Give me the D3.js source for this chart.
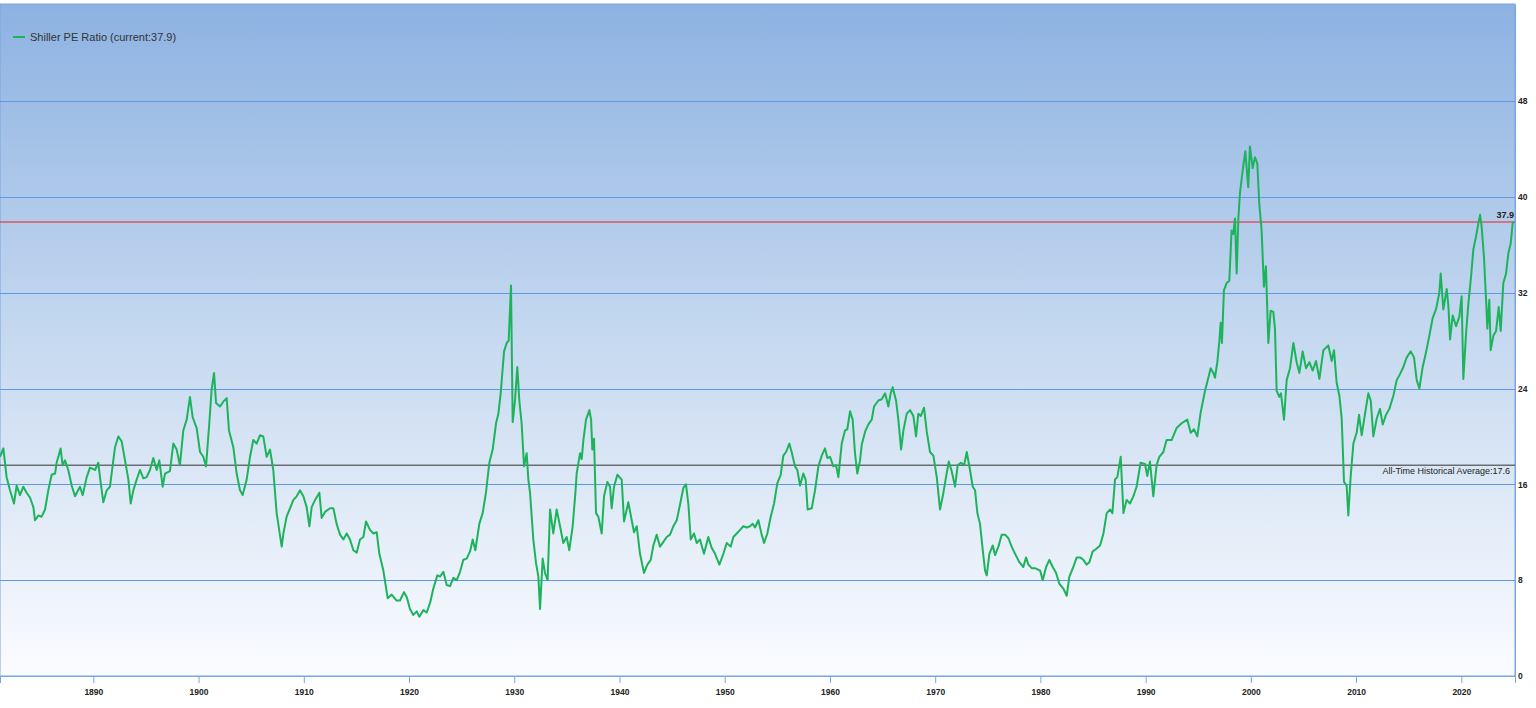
<!DOCTYPE html>
<html>
<head>
<meta charset="utf-8">
<script src="https://d3js.org/d3.v7.min.js"></script>
<style>
	html, body { margin: 0; padding: 0; background: #fff; }
	svg { display: block; font-family: "Liberation Sans", Arial, sans-serif; }
</style>
</head>
<body>
<div id="chart"></div>
<script>
// Shiller PE ratio (fractional years)
var years = [
	1881.13, 1881.45, 1881.76, 1882.08, 1882.46, 1882.71, 1883.03, 1883.35, 1883.66, 1883.98,
	1884.30, 1884.46, 1884.77, 1885.09, 1885.41, 1885.72, 1886.04, 1886.36, 1886.51, 1886.89,
	1887.08, 1887.31, 1887.62, 1887.94, 1888.26, 1888.73, 1888.99, 1889.37, 1889.68, 1890.16,
	1890.47, 1890.63, 1890.95, 1891.27, 1891.58, 1892.06, 1892.37, 1892.69, 1893.01, 1893.33,
	1893.55, 1893.80, 1894.12, 1894.43, 1894.75, 1895.07, 1895.38, 1895.70, 1896.02, 1896.27,
	1896.59, 1896.81, 1897.28, 1897.60, 1897.92, 1898.23, 1898.55, 1898.87, 1899.18, 1899.44,
	1899.82, 1900.14, 1900.45, 1900.71, 1901.02, 1901.24, 1901.47, 1901.66, 1902.04, 1902.35,
	1902.67, 1902.89, 1903.30, 1903.62, 1903.94, 1904.19, 1904.57, 1904.89, 1905.20, 1905.52,
	1905.84, 1906.15, 1906.47, 1906.79, 1907.10, 1907.42, 1907.90, 1908.06, 1908.37, 1908.69,
	1909.01, 1909.32, 1909.64, 1909.96, 1910.27, 1910.53, 1910.75, 1911.07, 1911.48, 1911.70,
	1912.02, 1912.49, 1912.81, 1913.12, 1913.44, 1913.76, 1914.08, 1914.39, 1914.71, 1915.03,
	1915.34, 1915.66, 1915.91, 1916.29, 1916.61, 1916.93, 1917.18, 1917.56, 1917.97, 1918.35,
	1918.82, 1919.14, 1919.52, 1919.78, 1920.09, 1920.41, 1920.73, 1920.98, 1921.36, 1921.68,
	1922.00, 1922.31, 1922.69, 1922.95, 1923.26, 1923.58, 1923.90, 1924.21, 1924.53, 1924.85,
	1925.16, 1925.48, 1925.80, 1926.05, 1926.30, 1926.68, 1927.00, 1927.31, 1927.63, 1927.95,
	1928.27, 1928.49, 1928.71, 1929.03, 1929.28, 1929.47, 1929.69, 1929.85, 1930.07, 1930.29,
	1930.48, 1930.70, 1930.93, 1931.18, 1931.34, 1931.50, 1931.81, 1932.07, 1932.29, 1932.45,
	1932.70, 1932.92, 1933.17, 1933.40, 1933.71, 1934.03, 1934.35, 1934.66, 1934.98, 1935.23,
	1935.55, 1935.81, 1935.93, 1936.25, 1936.41, 1936.57, 1936.82, 1937.14, 1937.30, 1937.42,
	1937.58, 1937.77, 1937.99, 1938.31, 1938.53, 1938.85, 1939.10, 1939.26, 1939.48, 1939.80,
	1940.21, 1940.43, 1940.84, 1941.16, 1941.38, 1941.64, 1941.95, 1942.33, 1942.65, 1942.97,
	1943.22, 1943.54, 1943.85, 1944.17, 1944.49, 1944.80, 1945.12, 1945.44, 1945.75, 1946.07,
	1946.32, 1946.55, 1946.77, 1947.08, 1947.34, 1947.65, 1948.03, 1948.44, 1948.76, 1949.08,
	1949.49, 1949.87, 1950.19, 1950.57, 1950.82, 1951.14, 1951.46, 1951.77, 1952.09, 1952.40,
	1952.66, 1952.88, 1953.20, 1953.51, 1953.74, 1954.05, 1954.37, 1954.69, 1955.00, 1955.32,
	1955.57, 1955.83, 1956.14, 1956.36, 1956.68, 1956.90, 1957.16, 1957.47, 1957.69, 1957.88,
	1958.27, 1958.58, 1958.90, 1959.22, 1959.53, 1959.76, 1960.01, 1960.32, 1960.58, 1960.80,
	1961.12, 1961.43, 1961.65, 1961.91, 1962.16, 1962.38, 1962.60, 1962.86, 1963.02, 1963.34,
	1963.65, 1963.97, 1964.19, 1964.60, 1964.92, 1965.24, 1965.55, 1965.77, 1965.96, 1966.28,
	1966.50, 1966.76, 1966.98, 1967.30, 1967.61, 1967.93, 1968.18, 1968.40, 1968.63, 1968.94,
	1969.20, 1969.51, 1969.83, 1970.15, 1970.46, 1970.72, 1971.03, 1971.29, 1971.57, 1971.89,
	1972.14, 1972.46, 1972.75, 1973.00, 1973.31, 1973.57, 1973.79, 1974.01, 1974.26, 1974.52,
	1974.74, 1974.90, 1975.15, 1975.47, 1975.69, 1976.01, 1976.32, 1976.64, 1976.96, 1977.27,
	1977.59, 1978.00, 1978.38, 1978.63, 1978.86, 1979.17, 1979.49, 1979.97, 1980.22, 1980.54,
	1980.85, 1981.17, 1981.49, 1981.80, 1982.18, 1982.50, 1982.75, 1983.13, 1983.45, 1983.77,
	1984.08, 1984.40, 1984.65, 1984.97, 1985.29, 1985.67, 1985.99, 1986.30, 1986.62, 1986.84,
	1987.09, 1987.31, 1987.63, 1987.89, 1988.19, 1988.51, 1988.83, 1989.14, 1989.52, 1989.94,
	1990.16, 1990.41, 1990.73, 1991.04, 1991.30, 1991.68, 1991.99, 1992.47, 1992.94, 1993.42,
	1993.96, 1994.28, 1994.59, 1994.91, 1995.23, 1995.64, 1995.96, 1996.18, 1996.43, 1996.59,
	1996.81, 1997.00, 1997.13, 1997.25, 1997.44, 1997.70, 1997.95, 1998.17, 1998.33, 1998.49,
	1998.65, 1998.81, 1998.96, 1999.22, 1999.47, 1999.75, 1999.91, 2000.17, 2000.39, 2000.61,
	2000.80, 2001.02, 2001.24, 2001.43, 2001.66, 2001.88, 2002.13, 2002.29, 2002.45, 2002.70,
	2002.86, 2003.15, 2003.40, 2003.72, 2004.04, 2004.35, 2004.61, 2004.92, 2005.24, 2005.56,
	2005.87, 2006.19, 2006.51, 2006.89, 2007.36, 2007.68, 2007.90, 2008.15, 2008.41, 2008.63,
	2008.85, 2009.10, 2009.26, 2009.48, 2009.74, 2010.05, 2010.28, 2010.53, 2010.85, 2011.16,
	2011.39, 2011.64, 2011.96, 2012.27, 2012.53, 2012.84, 2013.16, 2013.54, 2013.86, 2014.17,
	2014.49, 2014.81, 2015.19, 2015.50, 2015.76, 2016.01, 2016.33, 2016.64, 2016.96, 2017.28,
	2017.59, 2017.91, 2018.04, 2018.29, 2018.61, 2018.77, 2018.93, 2019.18, 2019.50, 2019.81,
	2020.03, 2020.19, 2020.45, 2020.67, 2020.92, 2021.14, 2021.40, 2021.62, 2021.78, 2021.93,
	2022.15, 2022.35, 2022.47, 2022.66, 2022.79, 2023.04, 2023.30, 2023.55, 2023.74, 2023.99,
	2024.25, 2024.47, 2024.69, 2024.88, 2024.98
];
var peValues = [
	18.3, 19.0, 16.6, 15.5, 14.4, 15.9, 15.1, 15.8, 15.3, 14.9,
	14.1, 13.0, 13.4, 13.3, 13.9, 15.5, 16.8, 16.9, 17.8, 19.0,
	17.6, 18.0, 17.2, 15.9, 15.0, 15.8, 15.1, 16.6, 17.4, 17.2,
	17.8, 16.6, 14.5, 15.5, 15.8, 19.1, 20.0, 19.6, 18.0, 16.4,
	14.4, 15.5, 16.4, 17.2, 16.5, 16.6, 17.2, 18.2, 17.2, 18.0,
	15.8, 16.9, 17.1, 19.4, 18.9, 17.6, 20.5, 21.4, 23.3, 21.6,
	20.7, 18.7, 18.3, 17.5, 21.1, 23.9, 25.3, 22.8, 22.5, 22.9,
	23.2, 20.5, 19.1, 16.9, 15.5, 15.1, 16.4, 18.3, 19.7, 19.4,
	20.1, 20.0, 18.3, 18.9, 17.2, 13.6, 10.8, 11.9, 13.3, 14.0,
	14.7, 15.0, 15.5, 15.0, 14.1, 12.5, 14.1, 14.7, 15.3, 13.2,
	13.7, 14.0, 14.0, 12.7, 11.8, 11.4, 11.9, 11.4, 10.5, 10.3,
	11.4, 11.6, 12.9, 12.2, 11.9, 12.0, 10.2, 8.8, 6.5, 6.8,
	6.3, 6.3, 7.0, 6.6, 5.6, 5.1, 5.4, 4.95, 5.5, 5.3,
	6.1, 7.3, 8.4, 8.3, 8.7, 7.6, 7.5, 8.2, 8.0, 8.7,
	9.7, 9.8, 10.4, 11.4, 10.5, 12.7, 13.6, 15.3, 17.8, 18.9,
	21.1, 21.9, 23.6, 27.1, 27.8, 28.0, 32.6, 21.2, 23.0, 25.8,
	23.0, 21.1, 17.5, 18.6, 16.4, 15.3, 11.4, 9.4, 8.3, 5.6,
	9.8, 8.6, 8.0, 13.9, 11.9, 13.9, 12.5, 11.1, 11.6, 10.5,
	12.5, 15.3, 16.9, 18.6, 18.1, 19.7, 21.4, 22.2, 21.4, 18.9,
	19.8, 13.6, 13.3, 11.9, 15.0, 16.2, 15.8, 14.0, 15.8, 16.8,
	16.4, 12.9, 14.5, 13.0, 12.0, 12.5, 10.2, 8.6, 9.3, 9.7,
	10.9, 11.8, 10.8, 11.2, 11.6, 11.8, 12.5, 13.0, 14.3, 15.7,
	16.0, 14.3, 11.4, 11.9, 11.1, 11.4, 10.2, 11.6, 10.7, 10.2,
	9.3, 10.2, 11.1, 10.8, 11.6, 11.9, 12.2, 12.5, 12.4, 12.5,
	12.7, 12.4, 13.0, 11.8, 11.1, 11.9, 13.3, 14.4, 16.1, 16.8,
	18.4, 18.7, 19.4, 18.7, 17.5, 17.2, 15.9, 16.9, 16.4, 13.9,
	14.0, 15.5, 17.5, 18.4, 19.0, 18.2, 18.3, 17.5, 17.6, 16.6,
	19.4, 20.5, 20.6, 22.1, 21.4, 18.6, 16.9, 18.0, 19.3, 20.4,
	21.0, 21.4, 22.5, 23.0, 23.1, 23.6, 22.5, 23.6, 24.1, 23.0,
	21.4, 18.9, 20.5, 21.9, 22.2, 21.7, 20.0, 21.9, 21.7, 22.4,
	20.4, 18.7, 18.4, 16.6, 13.9, 15.0, 16.6, 17.9, 17.1, 15.8,
	17.6, 17.8, 17.6, 18.7, 17.2, 15.8, 15.5, 13.6, 12.7, 10.5,
	8.8, 8.4, 10.2, 10.9, 10.1, 10.8, 11.8, 11.8, 11.5, 10.8,
	10.2, 9.5, 9.1, 9.9, 9.3, 9.0, 9.0, 8.8, 8.0, 9.1,
	9.7, 9.1, 8.6, 7.7, 7.3, 6.7, 8.3, 9.1, 9.9, 9.9,
	9.7, 9.3, 9.5, 10.4, 10.6, 10.9, 11.9, 13.6, 13.9, 13.6,
	16.4, 16.6, 18.3, 13.6, 14.7, 14.4, 15.0, 15.8, 17.8, 17.7,
	16.7, 17.9, 15.0, 17.6, 18.3, 18.7, 19.7, 19.7, 20.7, 21.1,
	21.4, 20.3, 20.6, 20.0, 22.0, 23.8, 24.9, 25.7, 25.3, 24.9,
	26.2, 27.9, 29.5, 27.8, 32.2, 32.8, 33.0, 37.2, 36.9, 38.2,
	33.6, 38.2, 40.3, 42.2, 43.8, 40.8, 44.2, 42.4, 43.3, 42.8,
	39.4, 37.2, 32.5, 34.2, 27.8, 30.5, 30.4, 29.0, 23.8, 23.3,
	23.6, 21.4, 24.7, 25.7, 27.8, 26.2, 25.3, 27.1, 25.7, 26.2,
	25.5, 26.3, 24.8, 27.2, 27.6, 26.3, 27.2, 24.5, 23.4, 21.5,
	16.2, 15.9, 13.4, 16.6, 19.4, 20.3, 21.8, 20.1, 21.9, 23.6,
	23.0, 20.0, 21.5, 22.3, 21.0, 21.8, 22.3, 23.4, 24.7, 25.2,
	25.8, 26.6, 27.1, 26.6, 24.7, 24.0, 25.8, 27.0, 28.4, 29.9,
	30.6, 32.0, 33.6, 30.6, 32.3, 30.9, 28.1, 30.1, 29.2, 30.0,
	31.7, 24.8, 28.6, 31.1, 33.3, 35.6, 36.7, 37.8, 38.5, 37.5,
	35.0, 31.4, 29.0, 31.4, 27.2, 28.4, 28.8, 30.8, 28.8, 32.8,
	33.6, 35.3, 36.1, 37.8, 37.9
];
var yTicks = [0, 8, 16, 24, 32, 40, 48];
var xTicks = [1890, 1900, 1910, 1920, 1930, 1940, 1950, 1960, 1970, 1980, 1990, 2000, 2010, 2020];
var currentValue = 37.9;
var historicalAverage = 17.6;
var seriesName = "Shiller PE Ratio";

var width = 1536, height = 708;
var plot = { left: 0, top: 4, right: 1515, bottom: 676 };

var svg = d3.select("#chart").append("svg")
	.attr("width", width)
	.attr("height", height);

// background gradient, blue at the top fading to white
var grad = svg.append("defs").append("linearGradient")
	.attr("id", "bg")
	.attr("x1", 0).attr("y1", 0).attr("x2", 0).attr("y2", 1);
grad.append("stop").attr("offset", "0%").attr("stop-color", "#8db2e2");
grad.append("stop").attr("offset", "50%").attr("stop-color", "#c6d9f0");
grad.append("stop").attr("offset", "100%").attr("stop-color", "#fbfcff");

var x = d3.scaleLinear()
	.domain([1881.13, 2025.1])
	.range([plot.left, plot.right]);
var y = d3.scaleLinear()
	.domain([0, 56.1])
	.range([plot.bottom, plot.top]);

svg.append("rect")
	.attr("x", plot.left)
	.attr("y", plot.top)
	.attr("width", plot.right - plot.left)
	.attr("height", plot.bottom - plot.top)
	.attr("fill", "url(#bg)")
	.attr("stroke", "#79a5e0")
	.attr("stroke-width", 1);

// horizontal grid lines
svg.append("g")
	.selectAll("line")
	.data(yTicks.filter(function (d) { return d > 0; }))
	.join("line")
	.attr("x1", plot.left)
	.attr("x2", plot.right)
	.attr("y1", function (d) { return Math.round(y(d)) + 0.5; })
	.attr("y2", function (d) { return Math.round(y(d)) + 0.5; })
	.attr("stroke", "#5f98e6")
	.attr("stroke-width", 1);

// y axis on the right
var yAxis = svg.append("g")
	.attr("transform", "translate(" + plot.right + ",0)")
	.call(d3.axisRight(y).tickValues(yTicks).tickSize(0).tickPadding(3));
yAxis.select(".domain").attr("stroke", "#79a5e0");
yAxis.selectAll("text")
	.attr("font-size", 8.5)
	.attr("font-weight", "bold")
	.attr("fill", "#222");

// x axis
var xAxis = svg.append("g")
	.attr("transform", "translate(0," + plot.bottom + ")")
	.call(d3.axisBottom(x).tickValues(xTicks).tickFormat(d3.format("d")).tickSize(7).tickPadding(6));
xAxis.select(".domain").attr("stroke", "#79a5e0");
xAxis.selectAll(".tick line").attr("stroke", "#79a5e0");
xAxis.selectAll("text")
	.attr("font-size", 8.5)
	.attr("font-weight", "bold")
	.attr("fill", "#222");

// reference lines: current value and long run average
svg.append("line")
	.attr("x1", plot.left).attr("x2", plot.right)
	.attr("y1", y(currentValue)).attr("y2", y(currentValue))
	.attr("stroke", "#ee1c24").attr("stroke-width", 1);
svg.append("text")
	.attr("x", plot.right - 1)
	.attr("y", y(currentValue) - 4)
	.attr("text-anchor", "end")
	.attr("font-size", 9)
	.attr("font-weight", "bold")
	.attr("fill", "#222")
	.text(currentValue);

svg.append("line")
	.attr("x1", plot.left).attr("x2", plot.right)
	.attr("y1", y(historicalAverage)).attr("y2", y(historicalAverage))
	.attr("stroke", "#333").attr("stroke-width", 1);
svg.append("text")
	.attr("x", plot.right - 5)
	.attr("y", y(historicalAverage) + 9)
	.attr("text-anchor", "end")
	.attr("font-size", 9)
	.attr("fill", "#222")
	.text("All-Time Historical Average:" + historicalAverage);

// the series
var points = years.map(function (d, i) { return [d, peValues[i]]; });
var line = d3.line()
	.x(function (d) { return x(d[0]); })
	.y(function (d) { return y(d[1]); });
svg.append("path")
	.datum(points)
	.attr("d", line)
	.attr("fill", "none")
	.attr("stroke", "#1db35b")
	.attr("stroke-width", 2)
	.attr("stroke-linejoin", "round");

// legend
var legend = svg.append("g").attr("transform", "translate(13,37)");
legend.append("line")
	.attr("x1", 0).attr("x2", 12)
	.attr("stroke", "#1db35b").attr("stroke-width", 2);
legend.append("text")
	.attr("x", 17)
	.attr("y", 4)
	.attr("font-size", 11)
	.attr("fill", "#333")
	.text(seriesName + " (current:" + currentValue + ")");
</script>
</body>
</html>
